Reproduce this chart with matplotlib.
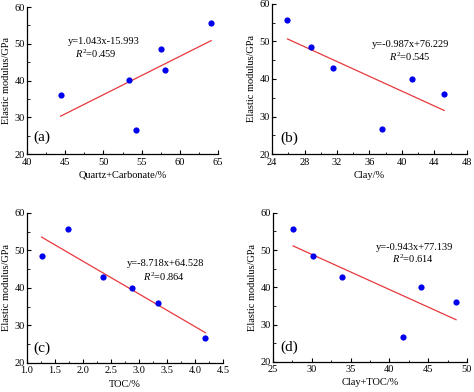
import matplotlib
matplotlib.use("Agg")
import matplotlib.pyplot as plt
import numpy as np
from matplotlib.ticker import MultipleLocator, FormatStrFormatter

plt.rcParams['font.family'] = ['Liberation Serif', 'DejaVu Serif']
plt.rcParams['mathtext.fontset'] = 'custom'
plt.rcParams['mathtext.rm'] = 'Liberation Serif'
plt.rcParams['mathtext.it'] = 'Liberation Serif:italic'

# Data
modulus = [55.7, 48.5, 42.8, 40.1, 36.1, 26.6]
quartz_carb = [64.1, 57.5, 58.0, 53.4, 44.4, 54.2]
clay = [25.9, 28.8, 31.5, 41.2, 45.2, 37.5]
toc = [1.73, 1.26, 2.35, 2.88, 3.34, 4.18]
clay_toc = [27.6, 30.1, 33.9, 44.1, 48.6, 41.7]

slopes = [1.043, -0.987, -8.718, -0.943]
intercepts = [-15.993, 76.229, 64.528, 77.139]
r2 = ["0.459", "0.545", "0.864", "0.614"]
eq_text = ["y=1.043x-15.993", "y=-0.987x+76.229", "y=-8.718x+64.528", "y=-0.943x+77.139"]
xlabels = ["Quartz+Carbonate/%", "Clay/%", "TOC/%", "Clay+TOC/%"]
panel_labels = ["(a)", "(b)", "(c)", "(d)"]

xs_all = [quartz_carb, clay, toc, clay_toc]

fig = plt.figure(figsize=(4.74, 3.92), dpi=100)
rects = [
    [0.057, 0.607, 0.403, 0.375],
    [0.574, 0.607, 0.411, 0.383],
    [0.057, 0.074, 0.414, 0.383],
    [0.576, 0.077, 0.409, 0.380],
]
xlims = [(40, 65), (24, 48), (1.0, 4.5), (25, 50)]
xmajor = [5, 4, 0.5, 5]
xfmt = ["%d", "%d", "%.1f", "%d"]
eq_pos = [(50.1, 50.5), (41.0, 49.3), (3.47, 46.4), (43.2, 50.6)]
r2_pos = [(49.0, 47.3), (41.0, 45.9), (3.45, 42.9), (43.0, 47.6)]
lab_pos = [(40.8, 24.6), (25.0, 24.3), (1.12, 24.0), (25.9, 23.8)]

for i in range(4):
    ax = fig.add_axes(rects[i])
    x = np.array(xs_all[i])
    ax.scatter(x, modulus, s=20, color='#0000ee', zorder=3, linewidths=0)
    xx = np.array([x.min(), x.max()])
    ax.plot(xx, slopes[i] * xx + intercepts[i], color='#e8383d', lw=0.9, zorder=2)
    ax.set_xlim(*xlims[i])
    ax.set_ylim(20, 60)
    ax.xaxis.set_major_locator(MultipleLocator(xmajor[i]))
    ax.xaxis.set_minor_locator(MultipleLocator(xmajor[i] / 2))
    ax.xaxis.set_major_formatter(FormatStrFormatter(xfmt[i]))
    ax.yaxis.set_major_locator(MultipleLocator(10))
    ax.yaxis.set_minor_locator(MultipleLocator(5))
    ax.tick_params(which='both', direction='in', labelsize=7.5)
    ax.tick_params(axis='x', pad=2.5)
    ax.tick_params(axis='y', pad=1.5)
    ax.tick_params(which='major', length=3, width=0.8)
    ax.tick_params(which='minor', length=1.8, width=0.6)
    for s in ['top', 'right']:
        ax.spines[s].set_visible(False)
    for s in ['left', 'bottom']:
        ax.spines[s].set_linewidth(0.9)
    ax.set_xlabel(xlabels[i], fontsize=7.5, labelpad=3)
    ax.set_ylabel("Elastic modulus/GPa", fontsize=7.5, labelpad=2.5)
    ax.text(eq_pos[i][0], eq_pos[i][1], eq_text[i], fontsize=7.5, ha='center', va='center')
    ax.text(r2_pos[i][0], r2_pos[i][1], "$R^2$=" + r2[i], fontsize=7.5, ha='center', va='center')
    ax.text(lab_pos[i][0], lab_pos[i][1], panel_labels[i], fontsize=11, ha='left', va='center')

fig.savefig("out.png", dpi=100)
